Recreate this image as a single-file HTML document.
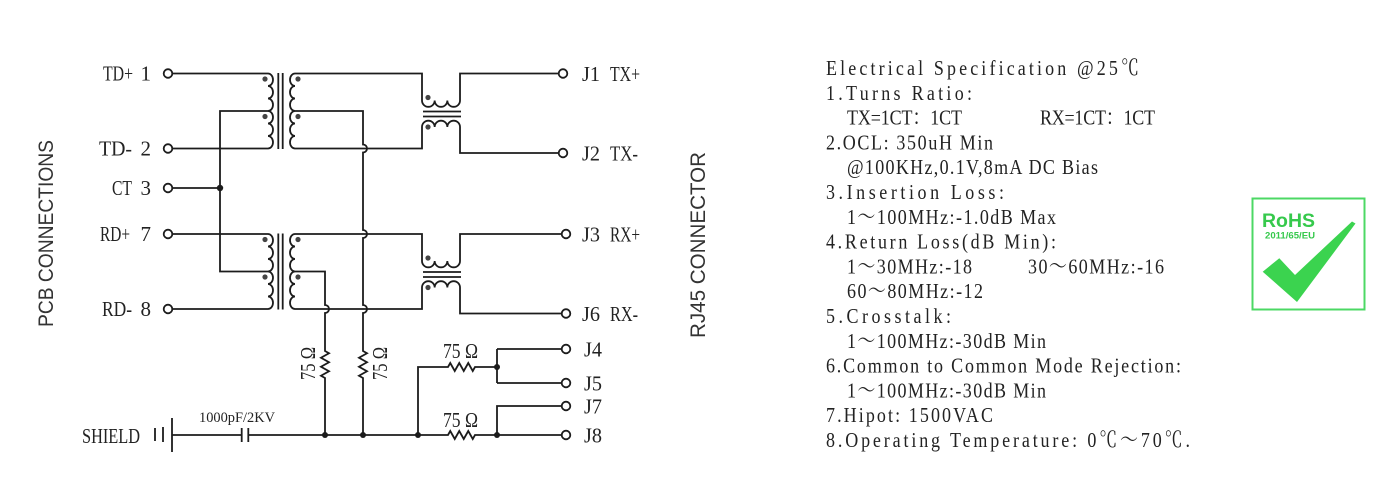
<!DOCTYPE html>
<html>
<head>
<meta charset="utf-8">
<style>
html,body{margin:0;padding:0;background:#fff;}
svg{display:block;}
.s{fill:none;stroke:#1c1c1c;stroke-width:1.8;}
.t{font-family:"Liberation Serif","Noto Serif CJK SC",serif;fill:#222;}
.v{font-family:"Liberation Sans",sans-serif;fill:#333;}
</style>
</head>
<body>
<svg width="1389" height="486" viewBox="0 0 1389 486" xmlns="http://www.w3.org/2000/svg">
<rect width="1389" height="486" fill="#fff"/>

<!-- vertical labels -->
<text class="v" x="46" y="240.5" transform="rotate(-90 46 233.5)" text-anchor="middle" font-size="21" textLength="187" lengthAdjust="spacingAndGlyphs">PCB CONNECTIONS</text>
<text class="v" x="697.5" y="252.5" transform="rotate(-90 697.5 245)" text-anchor="middle" font-size="21" textLength="186" lengthAdjust="spacingAndGlyphs">RJ45 CONNECTOR</text>

<!-- left labels -->
<g class="t" font-size="21">
<text x="103" y="80.5" textLength="30" lengthAdjust="spacingAndGlyphs">TD+</text>
<text x="151" y="80.5" text-anchor="end">1</text>
<text x="99" y="155.5" textLength="33" lengthAdjust="spacingAndGlyphs">TD-</text>
<text x="151" y="155.5" text-anchor="end">2</text>
<text x="112" y="195" textLength="20" lengthAdjust="spacingAndGlyphs">CT</text>
<text x="151" y="195" text-anchor="end">3</text>
<text x="100" y="241" textLength="30" lengthAdjust="spacingAndGlyphs">RD+</text>
<text x="151" y="241" text-anchor="end">7</text>
<text x="102" y="316" textLength="30" lengthAdjust="spacingAndGlyphs">RD-</text>
<text x="151" y="316" text-anchor="end">8</text>
<text x="82" y="443" textLength="58" lengthAdjust="spacingAndGlyphs">SHIELD</text>
<text x="199" y="422" font-size="15" textLength="76" lengthAdjust="spacingAndGlyphs">1000pF/2KV</text>
</g>

<!-- right J labels -->
<g class="t" font-size="21">
<text x="582" y="81" textLength="18" lengthAdjust="spacingAndGlyphs">J1</text>
<text x="610" y="81" textLength="30" lengthAdjust="spacingAndGlyphs">TX+</text>
<text x="582" y="160.5" textLength="18" lengthAdjust="spacingAndGlyphs">J2</text>
<text x="610" y="160.5" textLength="28" lengthAdjust="spacingAndGlyphs">TX-</text>
<text x="582" y="241.5" textLength="18" lengthAdjust="spacingAndGlyphs">J3</text>
<text x="610" y="241.5" textLength="30" lengthAdjust="spacingAndGlyphs">RX+</text>
<text x="582" y="321" textLength="18" lengthAdjust="spacingAndGlyphs">J6</text>
<text x="610" y="321" textLength="28" lengthAdjust="spacingAndGlyphs">RX-</text>
<text x="584" y="356.5" textLength="18" lengthAdjust="spacingAndGlyphs">J4</text>
<text x="584" y="390.5" textLength="18" lengthAdjust="spacingAndGlyphs">J5</text>
<text x="584" y="413.5" textLength="18" lengthAdjust="spacingAndGlyphs">J7</text>
<text x="584" y="442.5" textLength="18" lengthAdjust="spacingAndGlyphs">J8</text>
<text x="443" y="358" textLength="35" lengthAdjust="spacingAndGlyphs">75 Ω</text>
<text x="443" y="427" textLength="35" lengthAdjust="spacingAndGlyphs">75 Ω</text>
<text x="307.5" y="371" transform="rotate(-90 307.5 363.5)" text-anchor="middle" textLength="33" lengthAdjust="spacingAndGlyphs">75 Ω</text>
<text x="379.5" y="371" transform="rotate(-90 379.5 363.5)" text-anchor="middle" textLength="33" lengthAdjust="spacingAndGlyphs">75 Ω</text>
</g>

<!-- wiring -->
<g class="s">
<path d="M172.3,73.5 H268 a5,6.25 0 0 1 0,12.5 a5,6.25 0 0 1 0,12.5 a5,6.25 0 0 1 0,12.5 a5,6.25 0 0 1 0,12.5 a5,6.25 0 0 1 0,12.5 a5,6.25 0 0 1 0,12.5 H172.3"/>
<path d="M278.3,73 V149 M282.7,73 V149"/>
<path d="M422,100.5 V73.5 H295 a5,6.25 0 0 0 0,12.5 a5,6.25 0 0 0 0,12.5 a5,6.25 0 0 0 0,12.5 a5,6.25 0 0 0 0,12.5 a5,6.25 0 0 0 0,12.5 a5,6.25 0 0 0 0,12.5 H422 V127"/>
<path d="M422,100.5 a6.33,6.33 0 0 0 12.67,0 a6.33,6.33 0 0 0 12.67,0 a6.33,6.33 0 0 0 12.67,0 V73.5 H558.7"/>
<path d="M423,111.5 H461 M423,116.5 H461"/>
<path d="M422,127 a6.33,6.33 0 0 1 12.67,0 a6.33,6.33 0 0 1 12.67,0 a6.33,6.33 0 0 1 12.67,0 V153 H558.7"/>

<path d="M172.3,234 H268 a5,6.25 0 0 1 0,12.5 a5,6.25 0 0 1 0,12.5 a5,6.25 0 0 1 0,12.5 a5,6.25 0 0 1 0,12.5 a5,6.25 0 0 1 0,12.5 a5,6.25 0 0 1 0,12.5 H172.3"/>
<path d="M278.3,233.5 V309.5 M282.7,233.5 V309.5"/>
<path d="M422,261 V234 H295 a5,6.25 0 0 0 0,12.5 a5,6.25 0 0 0 0,12.5 a5,6.25 0 0 0 0,12.5 a5,6.25 0 0 0 0,12.5 a5,6.25 0 0 0 0,12.5 a5,6.25 0 0 0 0,12.5 H422 V287.5"/>
<path d="M422,261 a6.33,6.33 0 0 0 12.67,0 a6.33,6.33 0 0 0 12.67,0 a6.33,6.33 0 0 0 12.67,0 V234 H561.7"/>
<path d="M423,272 H461 M423,277 H461"/>
<path d="M422,287.5 a6.33,6.33 0 0 1 12.67,0 a6.33,6.33 0 0 1 12.67,0 a6.33,6.33 0 0 1 12.67,0 V313.5 H561.7"/>

<path d="M268,111 H220 V271.5 H268"/>
<path d="M172.3,188 H220"/>

<path d="M295,111 H363 V144.5 a4,4 0 0 1 0,8 V230 a4,4 0 0 1 0,8 V305 a4,4 0 0 1 0,8 V351 l4,2.25 l-8,4.5 l8,4.5 l-8,4.5 l8,4.5 l-8,4.5 l4,2.25 V435"/>
<path d="M295,271.5 H325 V305 a4,4 0 0 1 0,8 V351 l4,2.25 l-8,4.5 l8,4.5 l-8,4.5 l8,4.5 l-8,4.5 l4,2.25 V435"/>

<path d="M172,435 H241.7 M248.3,435 H448 l2.25,-4 l4.5,8 l4.5,-8 l4.5,8 l4.5,-8 l4.5,8 l2.25,-4 H561.7"/>
<path d="M241.7,428 V442 M248.3,428 V442"/>
<path d="M155,428 V441 M163,427 V442 M172,418 V452"/>

<path d="M418,435 V367 H448 l2.25,-4 l4.5,8 l4.5,-8 l4.5,8 l4.5,-8 l4.5,8 l2.25,-4 H497"/>
<path d="M497,349 V383 M497,349 H561.7 M497,383 H561.7"/>
<path d="M497,435 V406 H561.7"/>

<circle cx="168" cy="73.5" r="4.3" fill="#fff"/>
<circle cx="168" cy="148.5" r="4.3" fill="#fff"/>
<circle cx="168" cy="188" r="4.3" fill="#fff"/>
<circle cx="168" cy="234" r="4.3" fill="#fff"/>
<circle cx="168" cy="309" r="4.3" fill="#fff"/>
<circle cx="563" cy="73.5" r="4.3" fill="#fff"/>
<circle cx="563" cy="153" r="4.3" fill="#fff"/>
<circle cx="566" cy="234" r="4.3" fill="#fff"/>
<circle cx="566" cy="313.5" r="4.3" fill="#fff"/>
<circle cx="566" cy="349" r="4.3" fill="#fff"/>
<circle cx="566" cy="383" r="4.3" fill="#fff"/>
<circle cx="566" cy="406" r="4.3" fill="#fff"/>
<circle cx="566" cy="435" r="4.3" fill="#fff"/>
</g>

<g fill="#1c1c1c">
<circle cx="220" cy="188" r="3.2"/>
<circle cx="325" cy="435" r="3"/>
<circle cx="363" cy="435" r="3"/>
<circle cx="418" cy="435" r="3"/>
<circle cx="497" cy="435" r="3"/>
<circle cx="497" cy="367" r="3"/>
</g>
<g fill="#444">
<circle cx="265" cy="79" r="2.6"/>
<circle cx="265" cy="116.5" r="2.6"/>
<circle cx="298" cy="79" r="2.6"/>
<circle cx="298" cy="116.5" r="2.6"/>
<circle cx="265" cy="239.5" r="2.6"/>
<circle cx="265" cy="277" r="2.6"/>
<circle cx="298" cy="239.5" r="2.6"/>
<circle cx="298" cy="277" r="2.6"/>
<circle cx="428" cy="97.5" r="2.6"/>
<circle cx="428" cy="127" r="2.6"/>
<circle cx="428" cy="258" r="2.6"/>
<circle cx="428" cy="287.5" r="2.6"/>
</g>

<!-- specification text (scaled vertically 1.2) -->
<g class="t" font-size="18" transform="scale(1 1.2)">
<text x="826" y="62.5" textLength="313" lengthAdjust="spacing">Electrical Specification @25℃</text>
<text x="826" y="83.17" textLength="146" lengthAdjust="spacing">1.Turns Ratio:</text>
<text x="847" y="103.83" textLength="115" lengthAdjust="spacing">TX=1CT：1CT</text>
<text x="1040" y="103.83" textLength="115" lengthAdjust="spacing">RX=1CT：1CT</text>
<text x="826" y="124.5" textLength="167" lengthAdjust="spacing">2.OCL: 350uH Min</text>
<text x="847" y="145.17" textLength="251" lengthAdjust="spacing">@100KHz,0.1V,8mA DC Bias</text>
<text x="826" y="165.83" textLength="178" lengthAdjust="spacing">3.Insertion Loss:</text>
<text x="847" y="186.5" textLength="209" lengthAdjust="spacing">1～100MHz:-1.0dB Max</text>
<text x="826" y="207.17" textLength="230" lengthAdjust="spacing">4.Return Loss(dB Min):</text>
<text x="847" y="227.83" textLength="125" lengthAdjust="spacing">1～30MHz:-18</text>
<text x="1028" y="227.83" textLength="136" lengthAdjust="spacing">30～60MHz:-16</text>
<text x="847" y="248.5" textLength="136" lengthAdjust="spacing">60～80MHz:-12</text>
<text x="826" y="269.17" textLength="125" lengthAdjust="spacing">5.Crosstalk:</text>
<text x="847" y="289.83" textLength="199" lengthAdjust="spacing">1～100MHz:-30dB Min</text>
<text x="826" y="310.5" textLength="355" lengthAdjust="spacing">6.Common to Common Mode Rejection:</text>
<text x="847" y="331.17" textLength="199" lengthAdjust="spacing">1～100MHz:-30dB Min</text>
<text x="826" y="351.83" textLength="167" lengthAdjust="spacing">7.Hipot: 1500VAC</text>
<text x="826" y="372.5" textLength="364" lengthAdjust="spacing">8.Operating Temperature: 0℃～70℃.</text>
</g>

<!-- RoHS logo -->
<rect x="1252.5" y="198.5" width="112" height="111" fill="#fff" stroke="#4cd864" stroke-width="2"/>
<text x="1262" y="227" font-family="Liberation Sans, sans-serif" font-weight="bold" font-size="19" fill="#36c94c" textLength="53" lengthAdjust="spacingAndGlyphs">RoHS</text>
<text x="1265" y="238.5" font-family="Liberation Sans, sans-serif" font-weight="bold" font-size="9" fill="#36c94c" textLength="50" lengthAdjust="spacingAndGlyphs">2011/65/EU</text>
<polygon points="1262.7,271.7 1279.3,258.3 1295,275 1352,221.5 1355.5,223.5 1297,302" fill="#3bd34f"/>
</svg>
</body>
</html>
